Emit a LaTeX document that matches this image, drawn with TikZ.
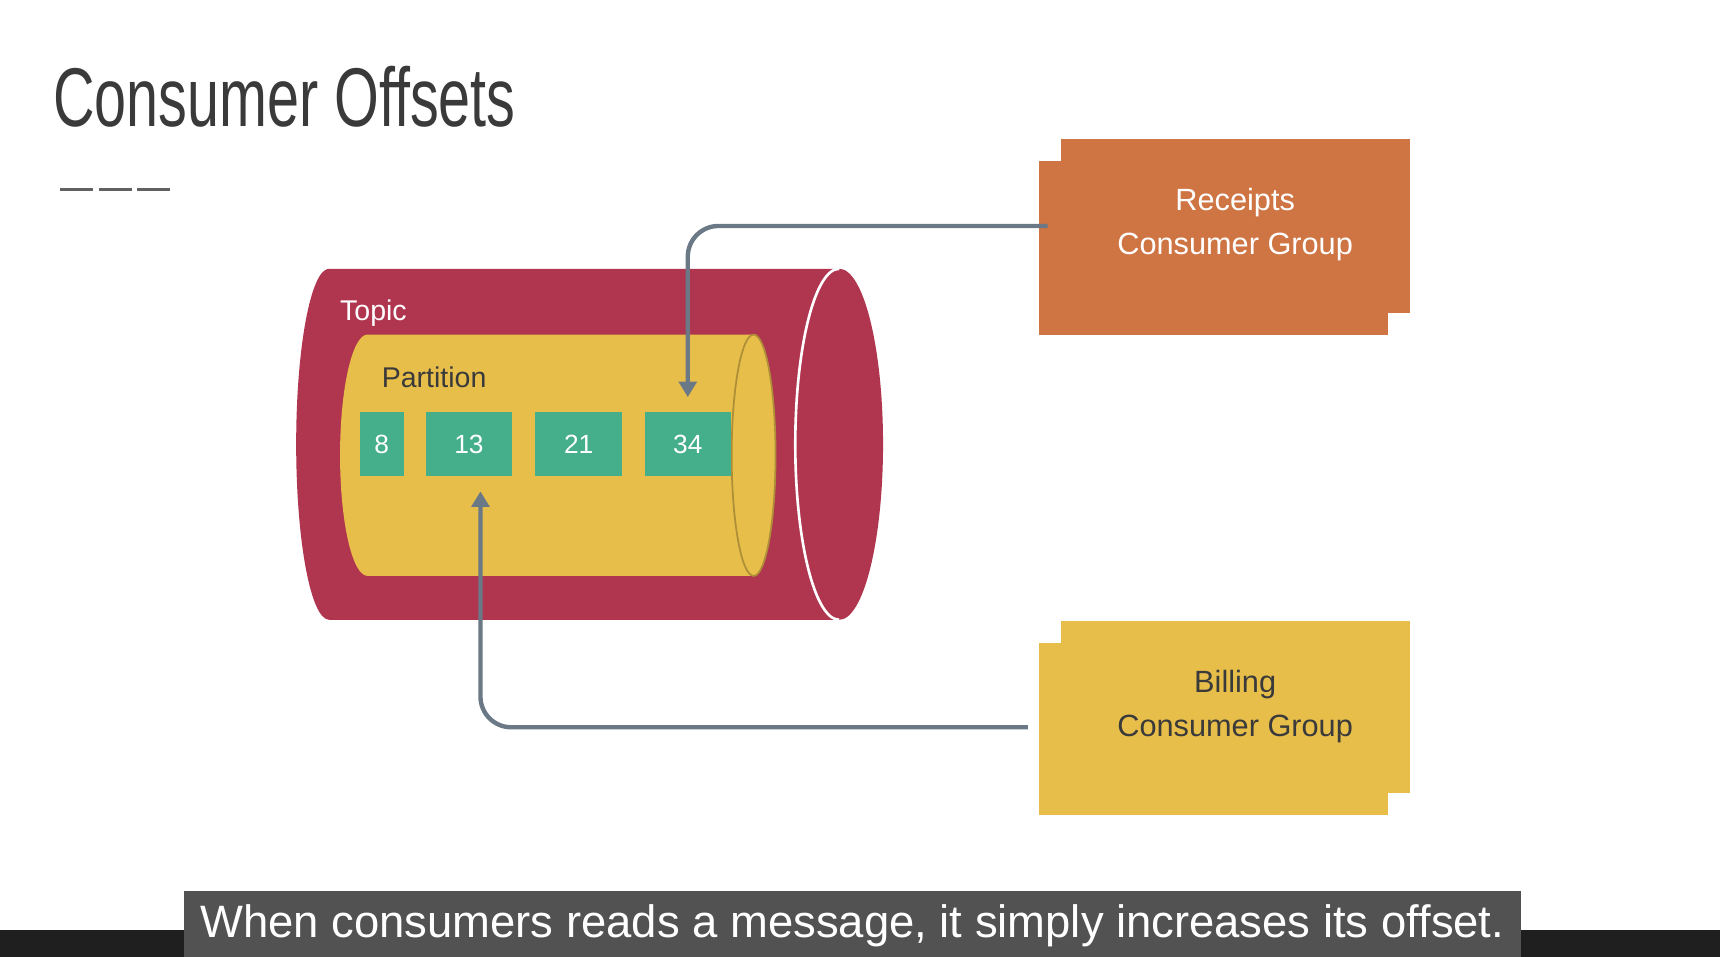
\documentclass[tikz,border=0pt]{standalone}
\usepackage{fontspec}
\setmainfont{Liberation Sans}
\usetikzlibrary{arrows.meta}
\definecolor{topicred}{HTML}{B0354F}
\definecolor{partyel}{HTML}{E8BE4A}
\definecolor{offgreen}{HTML}{45AE8A}
\definecolor{recorange}{HTML}{CF7443}
\definecolor{arrowgray}{HTML}{6B7886}
\definecolor{titlegray}{HTML}{3A3A3A}
\begin{document}
\begin{tikzpicture}[x=0.5pt,y=-0.5pt,
  off/.style={fill=offgreen,draw=none,minimum height=29pt,text=white,font=\fontsize{12}{14}\selectfont,inner sep=0pt},
  grp/.style={font=\fontsize{14}{20}\selectfont,align=center},
  conn/.style={draw=arrowgray,line width=2pt,rounded corners=14pt,-{Triangle[length=7pt,width=8pt]}}]
\fill[white] (0,0) rectangle (1568,872);
\useasboundingbox (0,0) rectangle (1568,872);
% title
\node[anchor=west,text=titlegray,inner sep=0pt] (title) at (48,88) {\scalebox{0.69}[1]{\fontsize{38}{40}\selectfont Consumer Offsets}};
\foreach \a in {55,90,125}{\draw[titlegray!80,line width=1.5pt] (\a,173) -- (\a+30,173);}
% topic cylinder
\fill[topicred] (765,245) -- (300,245) arc[start angle=270,end angle=90,x radius=30,y radius=160] -- (765,565) arc[start angle=90,end angle=-90,x radius=40,y radius=160] -- cycle;
\draw[white,line width=1.2pt] (765,245) arc[start angle=270,end angle=90,x radius=40,y radius=160];
% partition
\fill[partyel] (687,305) -- (335,305) arc[start angle=270,end angle=90,x radius=25,y radius=110] -- (687,525) arc[start angle=90,end angle=-90,x radius=20,y radius=110] -- cycle;
\draw[partyel!75!black,line width=0.8pt] (687,305) arc[start angle=270,end angle=-90,x radius=20,y radius=110];
\node[anchor=west,text=white,font=\fontsize{13}{15}\selectfont] (topic) at (303,285) {Topic};
\node[anchor=west,text=titlegray,font=\fontsize{13}{15}\selectfont] (part) at (341,344) {Partition};
\node[off,minimum width=20pt] (o8) at (348,405) {8};
\node[off,minimum width=39.5pt] (o13) at (427.5,405) {13};
\node[off,minimum width=39.5pt] (o21) at (527.5,405) {21};
\node[off,minimum width=39pt] (o34) at (627,405) {34};
% groups
\fill[recorange] (967,127) rectangle (1285,285);
\fill[recorange] (947,147) rectangle (1265,305);
\node[grp,text=white] (rec) at (1126,205) {Receipts\\Consumer Group};
\fill[partyel] (967,566) rectangle (1285,723);
\fill[partyel] (947,586) rectangle (1265,743);
\node[grp,text=titlegray] (bill) at (1126,644) {Billing\\Consumer Group};
\coordinate (recin) at (955,206);
\coordinate (billin) at (937,663);
\coordinate (tip34) at (627,362);
\coordinate (tip13) at (438,448);
\draw[conn] (recin) -- (627,206) -- (tip34);
\draw[conn] (billin) -- (438,663) -- (tip13);
% subtitle
\fill[black!88] (0,848) rectangle (1568,872);
\fill[black!68] (168,812) rectangle (1387,872);
\node[text=white,font=\fontsize{20.7}{24}\selectfont] (sub) at (777,844) {When consumers reads a message, it simply increases its offset.};
\end{tikzpicture}
\end{document}
